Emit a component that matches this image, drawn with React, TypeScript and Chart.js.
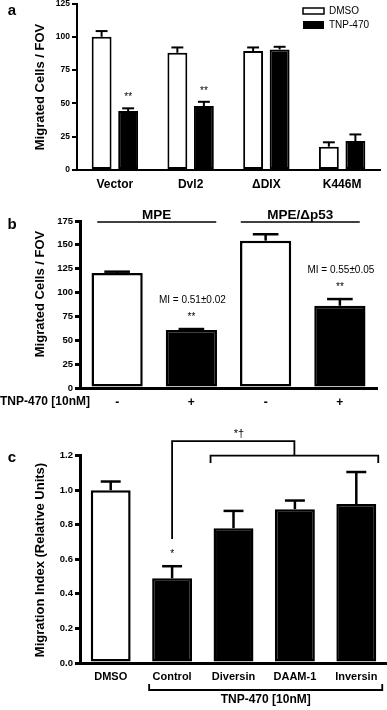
import React, { useEffect, useRef } from "react";
import { Chart, registerables } from "chart.js";
Chart.register(...registerables);

const FONT = '"Liberation Sans", Arial, Helvetica, sans-serif';
const PAGE_W = 387;

// ---------- Panel a ----------
const aCategories = ["Vector", "Dvl2", "\u0394DIX", "K446M"];
const aSeriesNames = ["DMSO", "TNP-470"];
const aDmso = [100, 88, 89.3, 17.5];
const aDmsoErr = [4.3, 4, 2.7, 3.3];
const aTnp = [44.3, 48, 90.5, 21.7];
const aTnpErr = [2, 3.2, 2, 5];
const aTnpStars = ["**", "**", "", ""];
const aYTicks = [0, 25, 50, 75, 100, 125];

// ---------- Panel b ----------
const bCategories = ["-", "+", "-", "+"];
const bValues = [120.4, 60.8, 154.4, 86.2];
const bErr = [1.5, 1, 6.7, 7];
const bTreated = [false, true, false, true];
const bGroups = ["MPE", "MPE/\u0394p53"];
const bMI = ["", "MI = 0.51\u00b10.02", "", "MI = 0.55\u00b10.05"];
const bStars = ["", "**", "", "**"];
const bYTicks = [0, 25, 50, 75, 100, 125, 150, 175];
const bTreatmentLabel = "TNP-470 [10nM]";

// ---------- Panel c ----------
const cCategories = ["DMSO", "Control", "Diversin", "DAAM-1", "Inversin"];
const cValues = [1.0, 0.49, 0.78, 0.89, 0.92];
const cErr = [0.05, 0.07, 0.1, 0.05, 0.185];
const cTreated = [false, true, true, true, true];
const cStars = ["", "*", "", "", ""];
const cYTicks = [0, 0.2, 0.4, 0.6, 0.8, 1.0, 1.2];
const cTreatmentLabel = "TNP-470 [10nM]";
const cBracketLabel = "*\u2020";

const yTitleAB = "Migrated Cells / FOV";
const yTitleC = "Migration Index (Relative Units)";

function yAxis(ticks: number[], width: number, fontSize: number, axisW: number, fmt: (v: number) => string) {
  return {
    type: "linear",
    min: ticks[0],
    max: ticks[ticks.length - 1],
    afterBuildTicks: (s: any) => {
      s.ticks = ticks.map((v) => ({ value: v }));
    },
    afterFit: (s: any) => {
      s.width = width;
      s.paddingTop = 0;
      s.paddingBottom = 0;
    },
    border: { display: true, color: "#000", width: axisW },
    grid: { display: true, drawOnChartArea: false, drawTicks: true, tickLength: 5, color: "#000", lineWidth: axisW },
    ticks: {
      color: "#000",
      padding: 2,
      font: { family: FONT, size: fontSize, weight: "bold" },
      callback: (v: any) => fmt(Number(v)),
    },
  };
}

function xAxis(height: number, fontSize: number, axisW: number, padding: number) {
  return {
    type: "category",
    afterFit: (s: any) => {
      s.height = height;
      s.paddingLeft = 0;
      s.paddingRight = 0;
    },
    border: { display: true, color: "#000", width: axisW },
    grid: { display: false, drawTicks: false },
    ticks: {
      color: "#000",
      padding,
      autoSkip: false,
      maxRotation: 0,
      font: { family: FONT, size: fontSize, weight: "bold" },
    },
  };
}

function baseOptions(padding: any) {
  return {
    responsive: false,
    animation: false,
    devicePixelRatio: 1,
    events: [],
    layout: { padding },
    plugins: { legend: { display: false }, tooltip: { enabled: false } },
  };
}

function txt(ctx: CanvasRenderingContext2D, s: string, x: number, y: number, font: string, align: CanvasTextAlign = "center") {
  ctx.save();
  ctx.font = font;
  ctx.fillStyle = "#000";
  ctx.textAlign = align;
  ctx.textBaseline = "middle";
  ctx.fillText(s, x, y);
  ctx.restore();
}

function vtxt(ctx: CanvasRenderingContext2D, s: string, x: number, y: number, font: string) {
  ctx.save();
  ctx.translate(x, y);
  ctx.rotate(-Math.PI / 2);
  ctx.font = font;
  ctx.fillStyle = "#000";
  ctx.textAlign = "center";
  ctx.textBaseline = "middle";
  ctx.fillText(s, 0, 0);
  ctx.restore();
}

function line(ctx: CanvasRenderingContext2D, pts: number[][], w: number) {
  ctx.save();
  ctx.strokeStyle = "#000";
  ctx.lineWidth = w;
  ctx.beginPath();
  pts.forEach((p, i) => (i === 0 ? ctx.moveTo(p[0], p[1]) : ctx.lineTo(p[0], p[1])));
  ctx.stroke();
  ctx.restore();
}

// draws error bars and returns cap pixel positions [dataset][index]
function errorBars(chart: any, errs: number[][], capFrac: number, w: number) {
  const ctx = chart.ctx as CanvasRenderingContext2D;
  const y = chart.scales.y;
  const caps: { x: number; y: number; w: number; top: number }[][] = [];
  chart.data.datasets.forEach((ds: any, di: number) => {
    const meta = chart.getDatasetMeta(di);
    caps[di] = [];
    meta.data.forEach((el: any, i: number) => {
      const v = ds.data[i] as number;
      const yTop = y.getPixelForValue(v + errs[di][i]);
      const hw = (el.width * capFrac) / 2;
      line(ctx, [[el.x, el.y], [el.x, yTop]], w);
      line(ctx, [[el.x - hw, yTop], [el.x + hw, yTop]], w);
      caps[di][i] = { x: el.x, y: yTop, w: el.width, top: el.y };
    });
  });
  return caps;
}

export default function App() {
  const aRef = useRef<HTMLCanvasElement>(null);
  const bRef = useRef<HTMLCanvasElement>(null);
  const cRef = useRef<HTMLCanvasElement>(null);

  useEffect(() => {
    const charts: Chart[] = [];

    // ---------- a ----------
    charts.push(
      new Chart(aRef.current as HTMLCanvasElement, {
        type: "bar",
        data: {
          labels: aCategories,
          datasets: [
            { label: aSeriesNames[0], data: aDmso, backgroundColor: "#fff", borderColor: "#000", borderWidth: 2, borderSkipped: false, categoryPercentage: 0.7, barPercentage: 0.75 },
            { label: aSeriesNames[1], data: aTnp, backgroundColor: "#000", borderColor: "#000", borderWidth: 2, borderSkipped: false, categoryPercentage: 0.7, barPercentage: 0.75 },
          ],
        },
        options: {
          ...baseOptions({ left: 0, top: 3.5, right: 7, bottom: 0 }),
          scales: {
            x: xAxis(30, 12, 2, 7),
            y: yAxis(aYTicks, 77, 8.5, 2, (v) => String(v)),
          },
        } as any,
        plugins: [
          {
            id: "annoA",
            afterDraw(chart: any) {
              const ctx = chart.ctx;
              const caps = errorBars(chart, [aDmsoErr, aTnpErr], 0.6, 2);
              aTnpStars.forEach((s, i) => {
                if (s) txt(ctx, s, caps[1][i].x, caps[1][i].y - 11, `10px ${FONT}`);
              });
              // legend
              ctx.save();
              ctx.fillStyle = "#fff";
              ctx.strokeStyle = "#000";
              ctx.lineWidth = 1.5;
              ctx.fillRect(303, 8, 21, 6);
              ctx.strokeRect(303, 8, 21, 6);
              ctx.fillStyle = "#000";
              ctx.fillRect(303, 21, 21, 8);
              ctx.restore();
              txt(ctx, aSeriesNames[0], 329, 11.5, `10px ${FONT}`, "left");
              txt(ctx, aSeriesNames[1], 329, 25, `10px ${FONT}`, "left");
              vtxt(ctx, yTitleAB, 40, 87, `bold 13px ${FONT}`);
              txt(ctx, "a", 12, 11, `bold 15px ${FONT}`);
            },
          },
        ],
      })
    );

    // ---------- b ----------
    charts.push(
      new Chart(bRef.current as HTMLCanvasElement, {
        type: "bar",
        data: {
          labels: bCategories,
          datasets: [
            {
              label: "b",
              data: bValues,
              backgroundColor: bTreated.map((t) => (t ? "#000" : "#fff")),
              borderColor: "#000",
              borderWidth: 2.5,
              borderSkipped: false,
              categoryPercentage: 1,
              barPercentage: 0.69,
            },
          ],
        },
        options: {
          ...baseOptions({ left: 0, top: 21, right: 10, bottom: 0 }),
          scales: {
            x: xAxis(22, 12, 3, 7),
            y: yAxis(bYTicks, 80, 9.5, 3, (v) => String(v)),
          },
        } as any,
        plugins: [
          {
            id: "annoB",
            afterDraw(chart: any) {
              const ctx = chart.ctx;
              const caps = errorBars(chart, [bErr], 0.5, 2.5);
              bStars.forEach((s, i) => {
                if (s) txt(ctx, s, caps[0][i].x, caps[0][i].y - 12, `10px ${FONT}`);
              });
              bMI.forEach((s, i) => {
                if (s) txt(ctx, s, caps[0][i].x + 1, caps[0][i].y - 29, `10px ${FONT}`);
              });
              const xs = chart.scales.x;
              const top = chart.chartArea.top;
              bGroups.forEach((g, gi) => {
                const cx = (xs.getPixelForValue(gi * 2) + xs.getPixelForValue(gi * 2 + 1)) / 2 + (gi === 0 ? 2.5 : -2.5);
                line(ctx, [[cx - 59.5, top + 1], [cx + 59.5, top + 1]], 1.5);
                txt(ctx, g, cx, top - 6, `bold 13.5px ${FONT}`);
              });
              txt(ctx, bTreatmentLabel, 90, 202, `bold 12px ${FONT}`, "right");
              vtxt(ctx, yTitleAB, 40, 94, `bold 13px ${FONT}`);
              txt(ctx, "b", 12, 25, `bold 15px ${FONT}`);
            },
          },
        ],
      })
    );

    // ---------- c ----------
    charts.push(
      new Chart(cRef.current as HTMLCanvasElement, {
        type: "bar",
        data: {
          labels: cCategories,
          datasets: [
            {
              label: "c",
              data: cValues,
              backgroundColor: cTreated.map((t) => (t ? "#000" : "#fff")),
              borderColor: "#000",
              borderWidth: 2.5,
              borderSkipped: false,
              categoryPercentage: 1,
              barPercentage: 0.65,
            },
          ],
        },
        options: {
          ...baseOptions({ left: 0, top: 45.6, right: 0, bottom: 0 }),
          scales: {
            x: xAxis(47, 11, 3, 7),
            y: yAxis(cYTicks, 80, 9.5, 3, (v) => v.toFixed(1)),
          },
        } as any,
        plugins: [
          {
            id: "annoC",
            afterDraw(chart: any) {
              const ctx = chart.ctx;
              const caps = errorBars(chart, [cErr], 0.5, 2.5);
              cStars.forEach((s, i) => {
                if (s) txt(ctx, s, caps[0][i].x, caps[0][i].y - 12, `10px ${FONT}`);
              });
              const ys = chart.scales.y;
              const top = chart.chartArea.top;
              const c0 = caps[0];
              // inner bracket over rescue constructs
              const ix1 = c0[2].x - c0[2].w / 2 - 3;
              const ix2 = c0[4].x + c0[4].w / 2 + 2;
              const iy = top;
              line(ctx, [[ix1, iy + 7.5], [ix1, iy], [ix2, iy], [ix2, iy + 7.5]], 1.8);
              // outer bracket from control to inner bracket
              const ox1 = c0[1].x;
              const ox2 = (ix1 + ix2) / 2;
              const oy = top - 14.5;
              line(ctx, [[ox1, ys.getPixelForValue(0.717)], [ox1, oy], [ox2, oy], [ox2, iy]], 1.8);
              txt(ctx, cBracketLabel, 239, top - 22, `11px ${FONT}`);
              // lower bracket for TNP-470 treated group
              const bx1 = c0[1].x - c0[1].w / 2 - 3;
              const bx2 = c0[4].x + c0[4].w / 2 + 6;
              const by = 280;
              line(ctx, [[bx1, by - 6], [bx1, by], [bx2, by], [bx2, by - 6]], 1.8);
              txt(ctx, cTreatmentLabel, (bx1 + bx2) / 2, 290, `bold 12px ${FONT}`);
              vtxt(ctx, yTitleC, 40, 150, `bold 13px ${FONT}`);
              txt(ctx, "c", 12, 48, `bold 15px ${FONT}`);
            },
          },
        ],
      })
    );

    return () => charts.forEach((c) => c.destroy());
  }, []);

  const cs = (top: number, h: number): React.CSSProperties => ({
    position: "absolute",
    left: 0,
    top,
    width: PAGE_W,
    height: h,
    display: "block",
  });

  return (
    <div style={{ position: "absolute", left: 0, top: 0, width: PAGE_W, height: 710, background: "#fff", overflow: "hidden" }}>
      <canvas ref={aRef} width={PAGE_W} height={200} style={cs(0, 200)} />
      <canvas ref={bRef} width={PAGE_W} height={210} style={cs(200, 210)} />
      <canvas ref={cRef} width={PAGE_W} height={300} style={cs(410, 300)} />
    </div>
  );
}
